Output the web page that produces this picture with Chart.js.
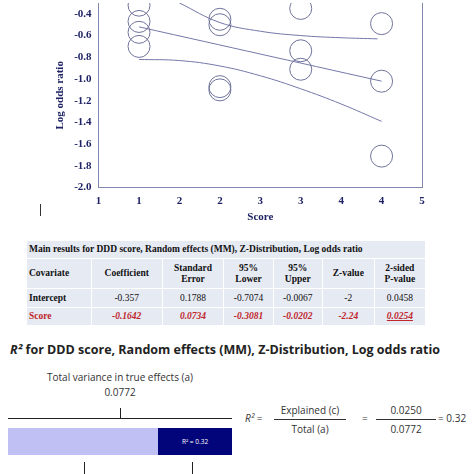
<!DOCTYPE html>
<html>
<head>
<meta charset="utf-8">
<script src="https://cdn.jsdelivr.net/npm/chart.js@4"></script>
<style>
  body { margin: 0; background: #fff; width: 474px; height: 474px; position: relative; overflow: hidden; font-family: "Open Sans", sans-serif; }
  #wrap { position: absolute; left: 0; top: -9px; width: 474px; height: 233px; }
  .abs { position: absolute; }
  table { border-collapse: collapse; font-family: "Liberation Serif", serif; font-size: 9.5px; color: #111; }
  td { background: #e6eaf3; border: 1px solid #fff; text-align: center; padding: 0 2px; line-height: 11px; }
  .red td { color: #c0262b; font-style: italic; font-weight: bold; }
</style>
</head>
<body>
<div id="wrap"><canvas id="bubbles"></canvas></div>
<div class="abs" style="left:40px;top:204px;width:1px;height:12px;background:#333"></div>

<table class="abs" style="left:26px;top:240px;width:400px">
  <tr style="height:18px"><td colspan="7" style="text-align:left;font-weight:bold;font-size:9.5px">Main results for DDD score, Random effects (MM), Z-Distribution, Log odds ratio</td></tr>
  <tr style="height:30px;font-weight:bold"><td style="text-align:left">Covariate</td><td>Coefficient</td><td>Standard<br>Error</td><td>95%<br>Lower</td><td>95%<br>Upper</td><td>Z-value</td><td>2-sided<br>P-value</td></tr>
  <tr style="height:19px"><td style="text-align:left;font-weight:bold">Intercept</td><td>-0.357</td><td>0.1788</td><td>-0.7074</td><td>-0.0067</td><td>-2</td><td>0.0458</td></tr>
  <tr class="red" style="height:18px"><td style="text-align:left;font-style:normal">Score</td><td>-0.1642</td><td>0.0734</td><td>-0.3081</td><td>-0.0202</td><td>-2.24</td><td><u>0.0254</u></td></tr>
</table>

<div class="abs" style="left:10px;top:341px;font-size:12.5px;font-weight:bold;color:#222"><i>R²</i> for DDD score, Random effects (MM), Z-Distribution, Log odds ratio</div>
<div class="abs" style="left:20px;top:370px;width:200px;text-align:center;font-size:10px;color:#333">Total variance in true effects (a)</div>
<div class="abs" style="left:20px;top:385px;width:200px;text-align:center;font-size:10px;color:#333">0.0772</div>
<div class="abs" style="left:8px;top:418px;width:224px;height:1px;background:#222"></div>
<div class="abs" style="left:120px;top:408px;width:1px;height:10px;background:#222"></div>
<div class="abs" style="left:8px;top:428px;width:150px;height:27px;background:#c0c0f4"></div>
<div class="abs" style="left:158px;top:428px;width:74px;height:27px;background:#02047a;color:#fff;font-size:6.5px;text-align:center;line-height:27px">R² = 0.32</div>
<div class="abs" style="left:84px;top:462px;width:1px;height:12px;background:#222"></div>
<div class="abs" style="left:192px;top:462px;width:1px;height:12px;background:#222"></div>

<div class="abs" style="left:245px;top:411px;font-size:10px;color:#333"><i>R²</i> =</div>
<div class="abs" style="left:274px;top:403px;width:72px;text-align:center;font-size:10px;color:#333">Explained (c)</div>
<div class="abs" style="left:274px;top:419px;width:72px;height:1px;background:#333"></div>
<div class="abs" style="left:274px;top:422px;width:72px;text-align:center;font-size:10px;color:#333">Total (a)</div>
<div class="abs" style="left:362px;top:411px;font-size:10px;color:#333">=</div>
<div class="abs" style="left:376px;top:403px;width:60px;text-align:center;font-size:10px;color:#333">0.0250</div>
<div class="abs" style="left:376px;top:419px;width:60px;height:1px;background:#333"></div>
<div class="abs" style="left:376px;top:422px;width:60px;text-align:center;font-size:10px;color:#333">0.0772</div>
<div class="abs" style="left:438px;top:411px;font-size:10px;color:#333">= 0.32</div>

<script>
const studyScores = [1, 1, 1, 1, 2, 2, 2, 2, 3, 3, 3, 4, 4, 4];
const studyLogOR = [-0.32, -0.47, -0.57, -0.70, -0.45, -0.50, -1.07, -1.10, -0.35, -0.74, -0.91, -0.49, -1.02, -1.71];
const fitX = [1, 4];
const fitY = [-0.52, -1.02];
const upperX = [1.5, 2, 2.5, 3, 3.5, 3.95];
const upperY = [-0.30, -0.48, -0.56, -0.60, -0.62, -0.63];
const lowerX = [1, 1.5, 2, 2.5, 3, 3.5, 4];
const lowerY = [-0.82, -0.83, -0.88, -0.97, -1.09, -1.23, -1.39];
const xTickLabels = ["1", "1", "2", "2", "3", "3", "4", "4", "5"];

const navy = "#1f2366";
const lineCol = "#7478a8";
const pts = (xs, ys) => xs.map((x, i) => ({ x: x, y: ys[i] }));
const lineSet = (xs, ys) => ({
    type: "line", data: pts(xs, ys), borderColor: lineCol, borderWidth: 1,
    pointRadius: 0, tension: 0.4, fill: false,
});

new Chart(document.getElementById("bubbles"), {
    type: "scatter",
    data: {
        datasets: [
            {
                data: pts(studyScores, studyLogOR),
                pointRadius: 11, pointHoverRadius: 11,
                pointBackgroundColor: "rgba(0,0,0,0)",
                pointBorderColor: "#6f7399", pointBorderWidth: 1,
            },
            lineSet(fitX, fitY),
            lineSet(upperX, upperY),
            lineSet(lowerX, lowerY),
        ],
    },
    options: {
        responsive: true, maintainAspectRatio: false, animation: false,
        layout: { padding: { left: 50, right: 52, top: 0, bottom: 0 } },
        plugins: { legend: { display: false }, tooltip: { enabled: false } },
        scales: {
            x: {
                min: 0.5, max: 4.5,
                grid: { display: false, drawTicks: true, tickLength: 4, color: "#8088b0" },
                border: { color: "#8088b0" },
                afterBuildTicks: (ax) => {
                    ax.ticks = xTickLabels.map((_, i) => ({ value: 0.5 + i * 0.5 }));
                },
                ticks: {
                    color: navy, font: { family: "Liberation Serif", size: 11, weight: "bold" },
                    callback: (v, i) => xTickLabels[i], maxRotation: 0, autoSkip: false,
                },
                title: { display: true, text: "Score", color: navy, font: { family: "Liberation Serif", size: 11, weight: "bold" }, padding: 0 },
            },
            y: {
                min: -2.0, max: -0.3,
                grid: { display: false, tickLength: 4, color: "#8088b0" },
                border: { color: "#8088b0" },
                afterBuildTicks: (ax) => {
                    const t = [];
                    for (let v = -2.0; v <= -0.39; v += 0.2) t.push({ value: Math.round(v * 10) / 10 });
                    ax.ticks = t;
                },
                ticks: {
                    color: navy, font: { family: "Liberation Serif", size: 11, weight: "bold" },
                    callback: (v) => v.toFixed(1),
                },
                title: { display: true, text: "Log odds ratio", color: navy, font: { family: "Liberation Serif", size: 11, weight: "bold" } },
            },
        },
    },
    plugins: [{
        id: "rightBorder",
        afterDraw(c) {
            const a = c.chartArea, g = c.ctx;
            g.save(); g.strokeStyle = "#8088b0"; g.lineWidth = 1;
            g.beginPath(); g.moveTo(a.right + 0.5, a.top); g.lineTo(a.right + 0.5, a.bottom); g.stroke();
            g.restore();
        },
    }],
});
</script>
</body>
</html>
